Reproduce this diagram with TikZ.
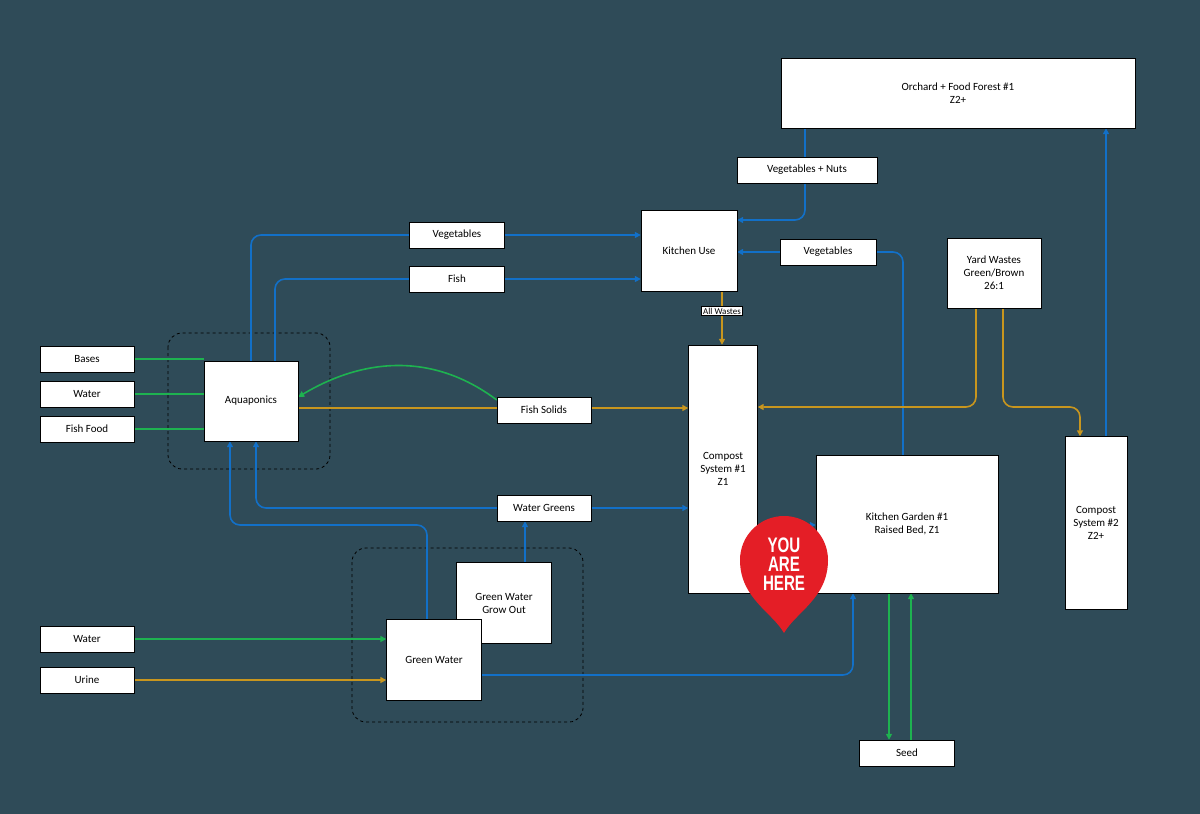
\documentclass[tikz,border=0pt]{standalone}
\usepackage{fontspec}
\setmainfont{Carlito}
\newfontfamily\pinfont{Liberation Sans}[FakeStretch=0.72]
\usetikzlibrary{arrows.meta}
\definecolor{slate}{RGB}{47, 75, 88}
\definecolor{flowblue}{RGB}{18, 112, 200}
\definecolor{flowgreen}{RGB}{30, 178, 80}
\definecolor{flowgold}{RGB}{200, 150, 30}
\definecolor{pinred}{RGB}{228, 30, 38}
\pgfdeclarelayer{bg}
\pgfdeclarelayer{lines}
\pgfsetlayers{bg,lines,main}
\begin{document}
\begin{tikzpicture}[x=1pt, y=-1pt,
    box/.style={draw=black, fill=white, align=center, inner sep=1pt,
                font=\fontsize{11}{13}\selectfont},
    flow/.style={line width=1.6pt, rounded corners=10pt, -{Triangle[length=6pt,width=6pt]}},
    twoway/.style={flow, {Triangle[length=6pt,width=6pt]}-{Triangle[length=6pt,width=6pt]}},
    plain/.style={line width=1.6pt, rounded corners=10pt},
    zone/.style={draw=black, dashed, thick, rounded corners=14pt}]
            % Boxes
            \node[box, minimum width=354pt, minimum height=70pt] (orchard) at (958,93) {Orchard + Food Forest \#1\\Z2+};
            \node[box, minimum width=140pt, minimum height=26pt] (vegnuts) at (807,170) {Vegetables + Nuts};
            \node[box, minimum width=96pt,  minimum height=81pt] (kitchen) at (689,251) {Kitchen Use};
            \node[box, minimum width=95pt,  minimum height=26pt] (vegleft) at (457,235) {Vegetables};
            \node[box, minimum width=95pt,  minimum height=26pt] (fish) at (457,279) {Fish};
            \node[box, minimum width=96pt,  minimum height=26pt] (vegright) at (828,252) {Vegetables};
            \node[box, minimum width=94pt,  minimum height=70pt] (yard) at (994,273) {Yard Wastes\\Green/Brown\\26:1};
            \node[box, minimum width=69pt,  minimum height=248pt] (comp1) at (723,469) {Compost\\System \#1\\Z1};
            \node[box, minimum width=94pt,  minimum height=26pt] (bases) at (87,359) {Bases};
            \node[box, minimum width=94pt,  minimum height=26pt] (water) at (87,394) {Water};
            \node[box, minimum width=94pt,  minimum height=26pt] (fishfood) at (87,429) {Fish Food};
            \node[box, minimum width=94pt,  minimum height=80pt] (aqua) at (251,401) {Aquaponics};
            \node[box, minimum width=94pt,  minimum height=26pt] (solids) at (544,410) {Fish Solids};
            \node[box, minimum width=94pt,  minimum height=26pt] (wgreens) at (544,508) {Water Greens};
            \node[box, minimum width=182pt, minimum height=138pt] (garden) at (907,524) {Kitchen Garden \#1\\Raised Bed, Z1};
            \node[box, minimum width=62pt,  minimum height=173pt] (comp2) at (1096,523) {Compost\\System \#2\\Z2+};
            \node[box, minimum width=95pt,  minimum height=81pt] (growout) at (504,603) {Green Water\\Grow Out};
            \node[box, minimum width=95pt,  minimum height=81pt] (gwater) at (434,660) {Green Water};
            \node[box, minimum width=94pt,  minimum height=26pt] (water2) at (87,639) {Water};
            \node[box, minimum width=94pt,  minimum height=26pt] (urine) at (87,680) {Urine};
            \node[box, minimum width=95pt,  minimum height=26pt] (seed) at (907,753) {Seed};
            \node[box, inner sep=1.5pt, font=\fontsize{9}{10}\selectfont] (allwastes) at (722,311) {All Wastes};
            % Background and zones
            \begin{pgfonlayer}{bg}
            \fill[slate] (0,0) rectangle (1200,814);
            \draw[zone] (168,333) rectangle (330,469);
            \draw[zone] (352,548) rectangle (583,722);
            \end{pgfonlayer}
            % Connectors
            \begin{pgfonlayer}{lines}
            \draw[flow, flowblue] (805,0 |- orchard.south) |- (kitchen.east |- 0,220);
            \draw[flow, flowblue] (251,0 |- aqua.north) |- (kitchen.west |- vegleft.east);
            \draw[flow, flowblue] (275,0 |- aqua.north) |- (kitchen.west |- fish.east);
            \draw[flow, flowblue] (903,0 |- garden.north) |- (kitchen.east |- vegright.east);
            \draw[flow, flowgold] (kitchen.south -| allwastes) -- (comp1.north -| allwastes);
            \draw[flow, flowgold] (976,0 |- yard.south) |- (comp1.east |- 0,407);
            \draw[flow, flowgold] (1003,0 |- yard.south) |- (1080,407) -- (1080,0 |- comp2.north);
            \draw[flow, flowblue] (1106,0 |- comp2.north) -- (1106,0 |- orchard.south);
            \draw[plain, flowgreen] (bases) -- (aqua.west |- bases);
            \draw[plain, flowgreen] (water) -- (aqua.west |- water);
            \draw[plain, flowgreen] (fishfood) -- (aqua.west |- fishfood);
            \draw[flow, flowgold] (aqua.east |- 0,408) -- (comp1.west |- 0,408);
            \draw[flow, flowgreen] (solids.west |- 0,400) .. controls (430,350) and (360,360) .. (aqua.east |- 0,397);
            \draw[twoway, flowblue] (256,0 |- aqua.south) |- (comp1.west |- wgreens);
            \draw[flow, flowblue] (525,0 |- growout.north) -- (525,0 |- wgreens.south);
            \draw[flow, flowblue] (427,0 |- gwater.north) |- (260,525) -| (230,0 |- aqua.south);
            \draw[flow, flowgreen] (water2) -- (gwater.west |- water2);
            \draw[flow, flowgold] (urine) -- (gwater.west |- urine);
            \draw[flow, flowblue] (gwater.east |- 0,675) -| (853,0 |- garden.south);
            \draw[flow, flowgreen] (889,0 |- garden.south) -- (889,0 |- seed.north);
            \draw[flow, flowgreen] (911,0 |- seed.north) -- (911,0 |- garden.south);
            \draw[flow, flowblue] (comp1.east |- 0,525) -- (garden.west |- 0,525);
            \end{pgfonlayer}
            % You are here
            \fill[pinred] (784,633) .. controls (772,612) and (740,598) .. (740,560)
                 arc (180:360:44) .. controls (828,598) and (796,612) .. (784,633) -- cycle;
            \node[text=white, align=center, font=\pinfont\bfseries\fontsize{21}{19}\selectfont] (pin) at (784,564) {YOU\\ARE\\HERE};
\end{tikzpicture}
\end{document}
